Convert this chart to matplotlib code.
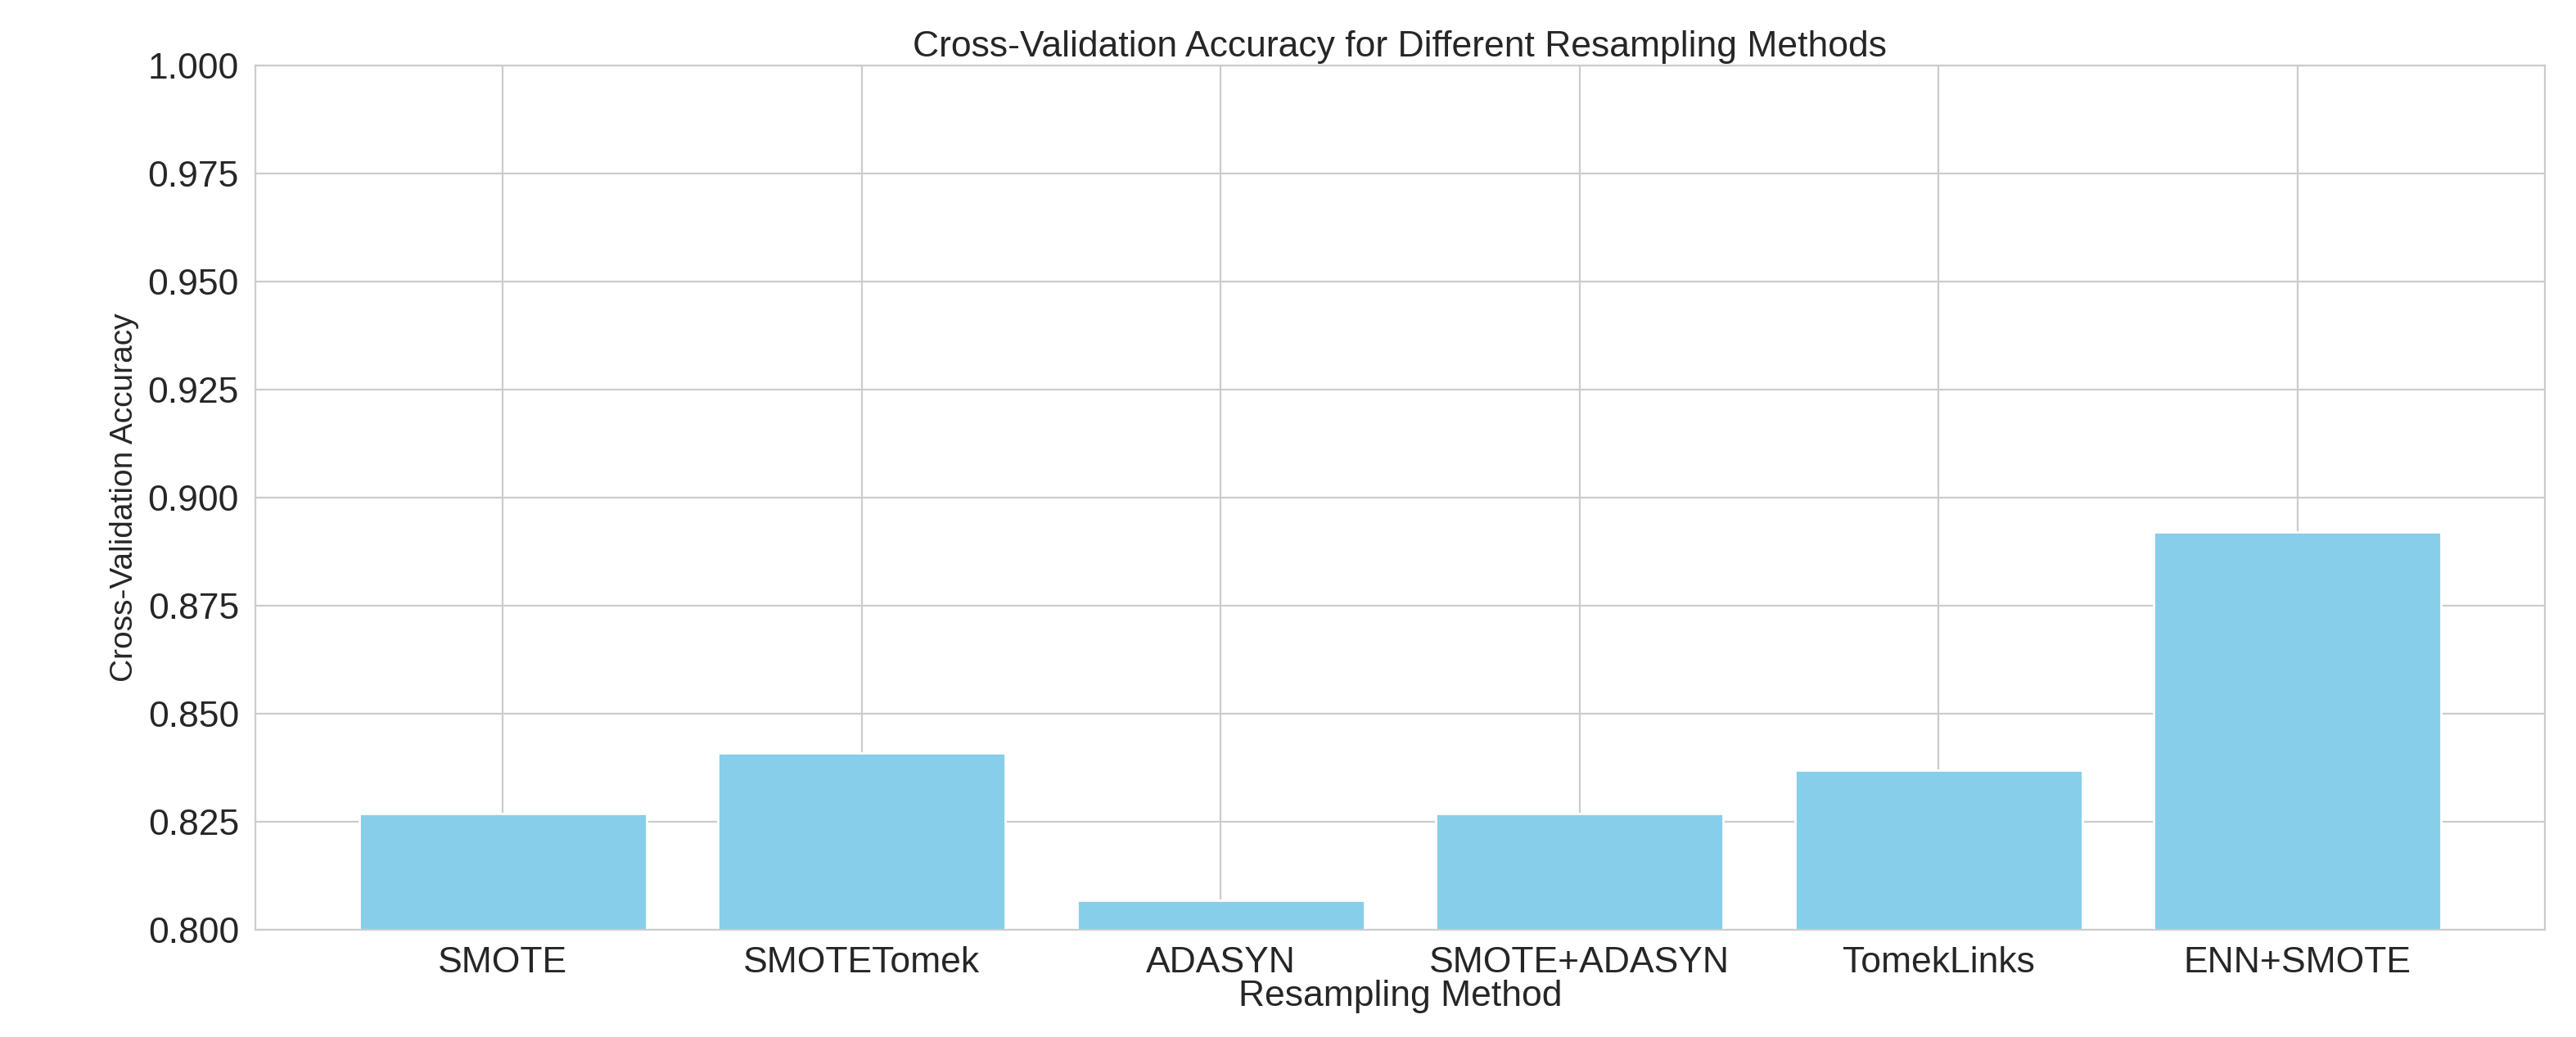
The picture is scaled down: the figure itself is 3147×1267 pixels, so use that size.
import matplotlib
matplotlib.use("Agg")
import matplotlib.pyplot as plt
import seaborn as sns

methods = ["SMOTE", "SMOTETomek", "ADASYN", "SMOTE+ADASYN", "TomekLinks", "ENN+SMOTE"]
accuracy = [0.827, 0.841, 0.807, 0.827, 0.837, 0.892]

sns.set_style("whitegrid")
plt.rcParams['font.family'] = ['Liberation Sans', 'DejaVu Sans']

fig = plt.figure(figsize=(15.735, 6.335), dpi=200)
ax = fig.add_axes([0.099, 0.103, 0.889, 0.834])
ax.bar(methods, accuracy, color='skyblue', width=0.8)
ax.set_ylim(0.8, 1.0)
ax.set_yticks([0.8 + 0.025 * i for i in range(9)])
ax.set_title("Cross-Validation Accuracy for Different Resampling Methods", fontsize=16, pad=4)
ax.set_xlabel("Resampling Method", fontsize=16, labelpad=0)
ax.set_ylabel("Cross-Validation Accuracy", fontsize=14)
ax.tick_params(labelsize=16)
for s in ax.spines.values():
    s.set_color('#cccccc')
fig.savefig("out.png")
